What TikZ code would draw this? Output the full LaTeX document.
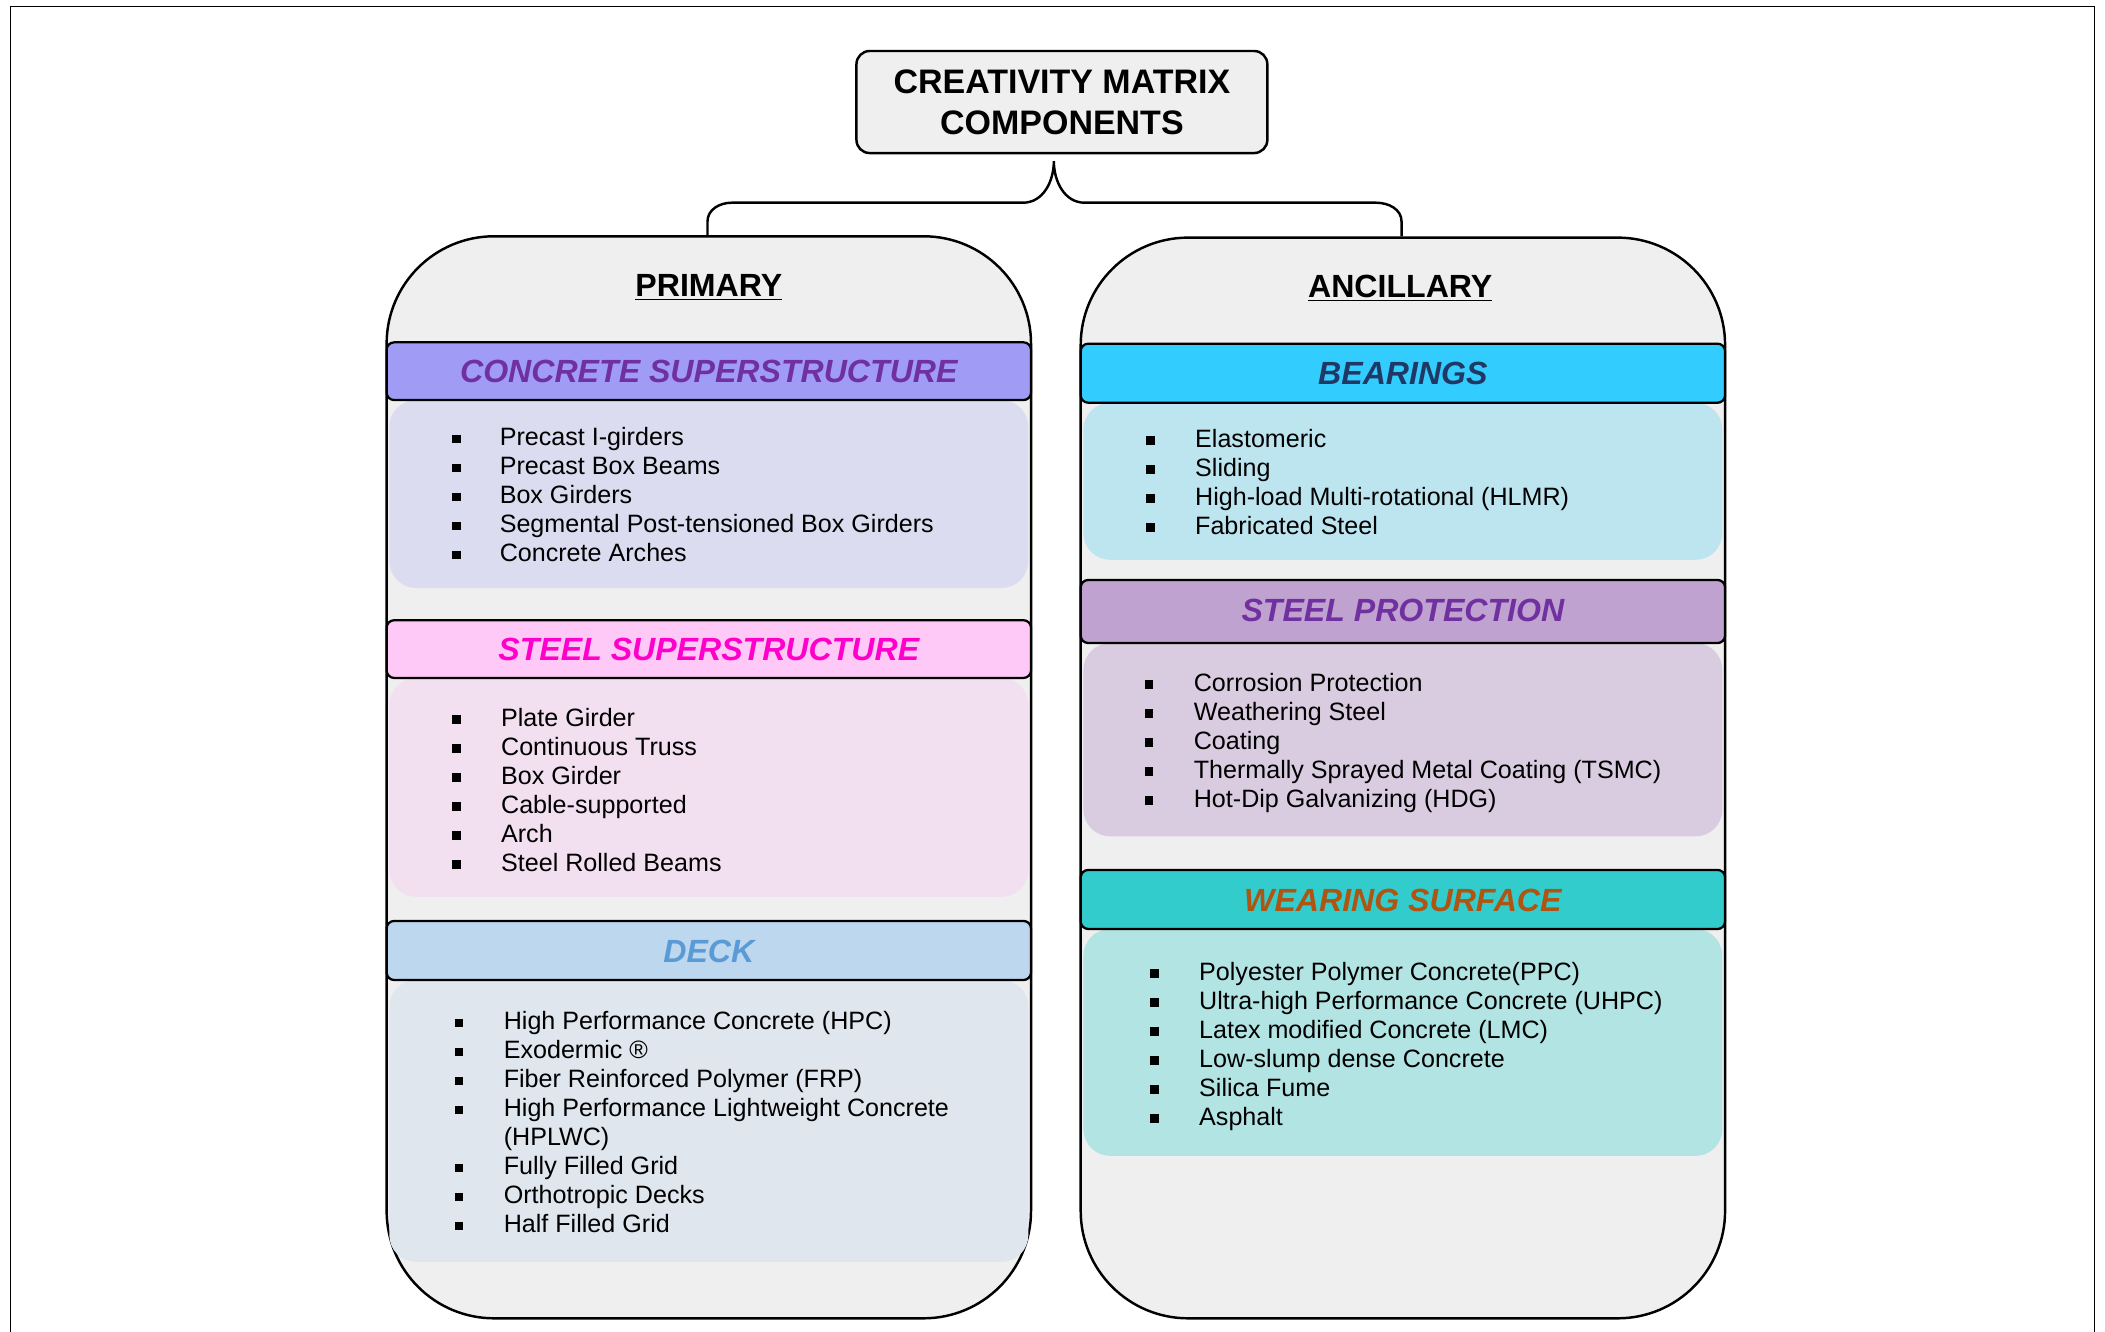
\documentclass[tikz,border=0pt]{standalone}
\usepackage{fontspec}
\setmainfont{Liberation Sans}
\begin{document}
\begin{tikzpicture}[x=0.025cm,y=-0.025cm,
  col/.style={draw=black,line width=1.3pt,fill=colbg,rounded corners=2cm},
  hdr/.style={draw=black,line width=1.2pt,rounded corners=4pt},
  cont/.style={rounded corners=0.5cm},
  htext/.style={font=\fontsize{17}{20}\selectfont\bfseries\itshape},
  itm/.style={anchor=base west,inner sep=0pt,font=\fontsize{13.3}{16}\selectfont},
  bul/.style={fill=black,inner sep=0pt,minimum size=4.5pt}]
\definecolor{colbg}{HTML}{EFEFEF}
\useasboundingbox (0,0) rectangle (1568,992);
\draw[line width=0.8pt] (8,1000) -- (8,5) -- (1560,5) -- (1560,1000);
% title
\node[draw=black,line width=1.3pt,fill=colbg,rounded corners=7pt,minimum width=7.65cm,minimum height=1.9cm,align=center,font=\fontsize{18}{21.5}\selectfont\bfseries] (title) at (791,76) {CREATIVITY MATRIX\\COMPONENTS};
% brace
\draw[line width=1.3pt] (527,176) -- (527,165) to[out=90,in=180] (545,151) -- (762,151) to[out=0,in=-90] (785,120) to[out=-90,in=180] (808,151) -- (1025,151) to[out=0,in=90] (1044,165) -- (1044,176);
% columns
\draw[col] (288,176) rectangle (768,982);
\draw[col] (805,177) rectangle (1285,982);
\node[font=\fontsize{17}{20}\selectfont\bfseries] (prim) at (528,214) {\underline{PRIMARY}};
\node[font=\fontsize{17}{20}\selectfont\bfseries] (anc) at (1043,215) {\underline{ANCILLARY}};
% left contents
\fill[cont,fill={rgb,255:red,220;green,220;blue,240}] (290,298) rectangle (766,438);
\fill[cont,fill={rgb,255:red,242;green,223;blue,240}] (290,505) rectangle (766,668);
\fill[cont,fill={rgb,255:red,223;green,230;blue,238}] (290,730) rectangle (766,940);
\fill[cont,fill={rgb,255:red,189;green,229;blue,240}] (807,300) rectangle (1283,417);
\fill[cont,fill={rgb,255:red,217;green,204;blue,224}] (807,479) rectangle (1283,623);
\fill[cont,fill={rgb,255:red,178;green,228;blue,228}] (807,692) rectangle (1283,861);
% headers
\draw[hdr,fill={rgb,255:red,160;green,156;blue,245}] (288,255) rectangle (768,298);
\node[htext,text={rgb,255:red,112;green,48;blue,160}] (h1) at (528,277) {CONCRETE SUPERSTRUCTURE};
\draw[hdr,fill={rgb,255:red,255;green,201;blue,247}] (288,462) rectangle (768,505);
\node[htext,text={rgb,255:red,255;green,0;blue,204}] (h2) at (528,484) {STEEL SUPERSTRUCTURE};
\draw[hdr,fill={rgb,255:red,189;green,215;blue,238}] (288,686) rectangle (768,730);
\node[htext,text={rgb,255:red,91;green,155;blue,213}] (h3) at (528,709) {DECK};
\draw[hdr,fill={rgb,255:red,51;green,204;blue,255}] (805,256) rectangle (1285,300);
\node[htext,text={rgb,255:red,31;green,56;blue,100}] (h4) at (1045,278) {BEARINGS};
\draw[hdr,fill={rgb,255:red,191;green,162;blue,207}] (805,432) rectangle (1285,479);
\node[htext,text={rgb,255:red,112;green,48;blue,160}] (h5) at (1045,455) {STEEL PROTECTION};
\draw[hdr,fill={rgb,255:red,51;green,204;blue,204}] (805,648) rectangle (1285,692);
\node[htext,text={rgb,255:red,175;green,85;blue,20}] (h6) at (1045,671) {WEARING SURFACE};
% items
\newcommand{\itemlist}[4]{% bulletx, textx, first baseline y, list
  \foreach \t [count=\i from 0] in {#4} {
    \node[bul] at (#1,#3+\i*21.6-5) {};
    \node[itm] at (#2,#3+\i*21.6) {\t};
  }}
\itemlist{340}{372}{332}{Precast I-girders,Precast Box Beams,Box Girders,Segmental Post-tensioned Box Girders,Concrete Arches}
\itemlist{340}{373}{541}{Plate Girder,Continuous Truss,Box Girder,Cable-supported,Arch,Steel Rolled Beams}
\itemlist{342}{375}{767}{High Performance Concrete (HPC),Exodermic \textregistered,Fiber Reinforced Polymer (FRP),High Performance Lightweight Concrete}
\node[itm] at (375,853) {(HPLWC)};
\foreach \t [count=\i from 0] in {Fully Filled Grid,Orthotropic Decks,Half Filled Grid} {
  \node[bul] at (342,875+\i*21.6-5) {};
  \node[itm] at (375,875+\i*21.6) {\t};
}
\itemlist{857}{890}{333}{Elastomeric,Sliding,High-load Multi-rotational (HLMR),Fabricated Steel}
\itemlist{856}{889}{515}{Corrosion Protection,Weathering Steel,Coating,Thermally Sprayed Metal Coating (TSMC),Hot-Dip Galvanizing (HDG)}
\itemlist{860}{893}{730}{Polyester Polymer Concrete(PPC),Ultra-high Performance Concrete (UHPC),Latex modified Concrete (LMC),Low-slump dense Concrete,Silica Fume,Asphalt}
\end{tikzpicture}
\end{document}
